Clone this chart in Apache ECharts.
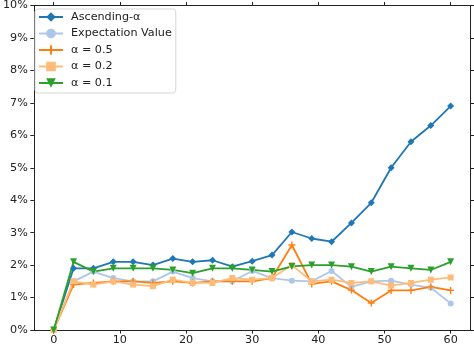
<!DOCTYPE html>
<html><head><meta charset="utf-8">
<script src="https://cdn.jsdelivr.net/npm/echarts@6/dist/echarts.min.js"></script>
<style>html,body{margin:0;padding:0;background:#fff}#c{width:474px;height:346px}</style>
</head><body><div id="c"></div>
<script>
const xValues = [0,3,6,9,12,15,18,21,24,27,30,33,36,39,42,45,48,51,54,57,60];
const xTicks = [0,10,20,30,40,50,60];
const yTicks = [0,1,2,3,4,5,6,7,8,9,10];
const seriesNames = ['Ascending-α','Expectation Value','α = 0.5','α = 0.2','α = 0.1'];
const ascending = [0,1.9,1.9,2.1,2.1,2.0,2.2,2.1,2.15,1.95,2.12,2.31,3.02,2.82,2.72,3.3,3.92,5.0,5.8,6.3,6.9];
const expectation = [0,1.5,1.8,1.6,1.5,1.5,1.8,1.6,1.5,1.5,1.82,1.6,1.52,1.5,1.82,1.33,1.5,1.52,1.4,1.3,0.82];
const alpha05 = [0,1.4,1.45,1.5,1.5,1.45,1.5,1.45,1.5,1.5,1.5,1.6,2.62,1.42,1.5,1.23,0.83,1.22,1.22,1.33,1.22];
const alpha02 = [0,1.5,1.4,1.5,1.4,1.35,1.55,1.45,1.45,1.6,1.55,1.6,2.0,1.5,1.55,1.45,1.5,1.37,1.45,1.55,1.62];
const alpha01 = [0,2.1,1.8,1.9,1.9,1.9,1.85,1.75,1.9,1.9,1.85,1.8,1.96,2.0,2.0,1.95,1.8,1.95,1.9,1.85,2.1];

const colors = ['#1f77b4','#aec7e8','#ff7f0e','#ffbb78','#2ca02c'];
const symbols = ['diamond','circle','path://M4,0H6V4H10V6H6V10H4V6H0V4H4Z','rect','triangle'];
const sizes = [7,6,7,6,7];
const rotates = [0,0,0,0,180];
const dataSets = [ascending, expectation, alpha05, alpha02, alpha01];
const font = 'DejaVu Sans';
const axisCol = '#222';
const fs = 11.2;

const chart = echarts.init(document.getElementById('c'), null, {renderer:'canvas'});
const series = dataSets.map((d,i)=>({
  name: seriesNames[i], type:'line', xAxisIndex:0, yAxisIndex:0,
  data: xValues.map((x,j)=>[x,d[j]]),
  symbol: symbols[i], symbolSize: sizes[i], symbolRotate: rotates[i],
  showAllSymbol: true,
  lineStyle:{color:colors[i], width:1.8},
  itemStyle:{color:colors[i], borderWidth:0},
  emphasis:{disabled:true}, animation:false, clip:false
}));
const xBase = {type:'value', min:-3, max:63,
  axisLine:{show:true, onZero:false, lineStyle:{color:axisCol, width:1}},
  axisTick:{show:true, length:3.5, customValues:xTicks, lineStyle:{color:axisCol}},
  splitLine:{show:false}};
const yBase = {type:'value', min:0, max:10, interval:1,
  axisLine:{show:true, onZero:false, lineStyle:{color:axisCol, width:1}},
  axisTick:{show:true, length:3.5, lineStyle:{color:axisCol}},
  splitLine:{show:false}};
chart.setOption({
  animation:false,
  textStyle:{fontFamily:font},
  grid:{left:30, right:3.5, top:3, bottom:13, containLabel:false},
  xAxis:[
    Object.assign({}, xBase, {position:'bottom',
      axisLabel:{show:true, customValues:xTicks, margin:5, fontSize:fs, color:axisCol, fontFamily:font}}),
    Object.assign({}, xBase, {position:'top', axisLabel:{show:false}})
  ],
  yAxis:[
    Object.assign({}, yBase, {position:'left',
      axisLabel:{show:true, margin:6, fontSize:fs, color:axisCol, fontFamily:font, formatter:'{value}%'}}),
    Object.assign({}, yBase, {position:'right', axisLabel:{show:false}})
  ],
  legend:{
    show:true, orient:'vertical', left:35, top:9,
    data: seriesNames,
    itemWidth:24, itemHeight:12, itemGap:4.5,
    padding:[2,4,4,3],
    backgroundColor:'rgba(255,255,255,0.8)',
    borderColor:'#d6d6d6', borderWidth:1, borderRadius:3,
    textStyle:{fontFamily:font, fontSize:fs, lineHeight:12, color:'#222', padding:[0,0,0,3]},
    selectedMode:false
  },
  series: series
});
</script></body></html>
